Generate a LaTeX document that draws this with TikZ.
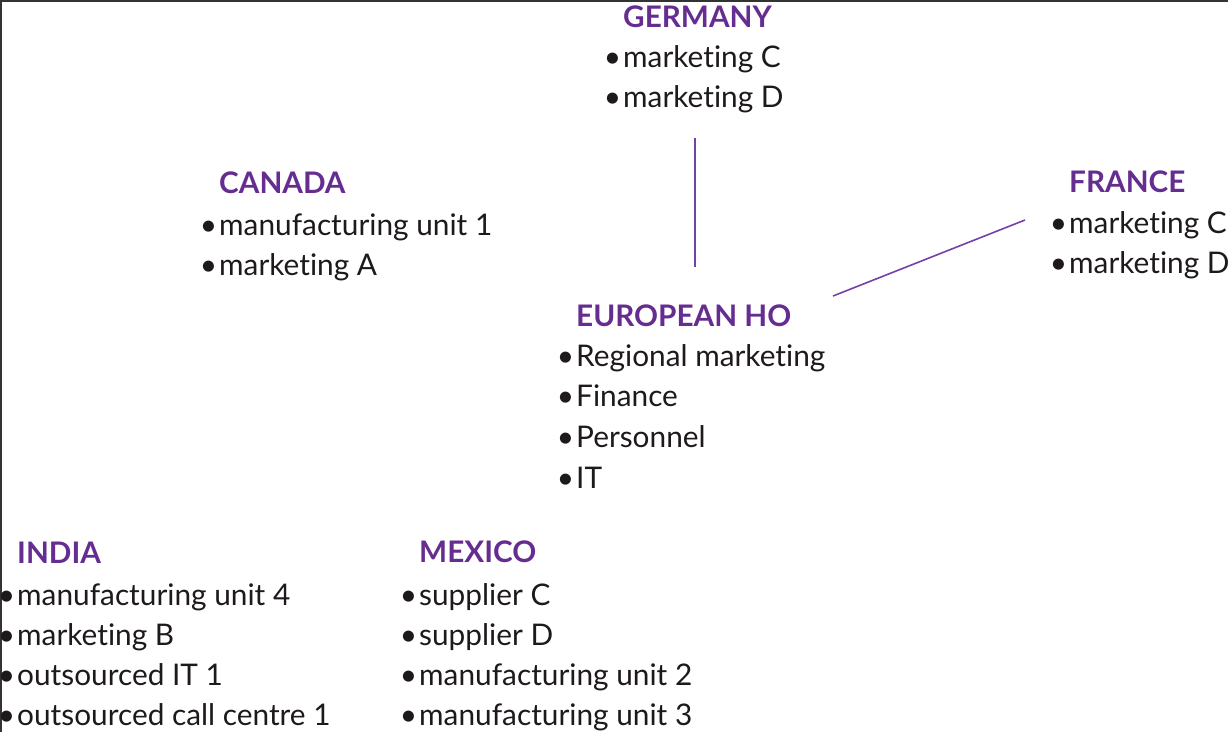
\documentclass[tikz,border=0pt]{standalone}
\usepackage{fontspec}
\setmainfont{Lato}[Ligatures=NoCommon]
\definecolor{hdpurple}{HTML}{662D91}
\definecolor{linepurple}{HTML}{7341A8}
\definecolor{txtdark}{HTML}{1E1A1B}
\definecolor{frame}{HTML}{333333}
\tikzset{
  heading/.style={anchor=base west, inner sep=0pt, text=hdpurple, font=\fontsize{29.7}{34}\selectfont\bfseries},
  item/.style={anchor=base west, inner sep=0pt, text=txtdark, font=\fontsize{29.8}{34}\selectfont},
  link/.style={draw=linepurple, line width=1.6pt},
}
\newcommand{\bul}{\makebox[0pt][r]{\textbullet\hspace{2pt}}}
\begin{document}
\begin{tikzpicture}[x=1pt,y=-1pt]
\useasboundingbox (0,0) rectangle (1228,732);
\clip (0,0) rectangle (1228,732);
\draw[frame, line width=4pt] (0,732) -- (0,0) -- (1228,0);
% GERMANY
\node[heading] (germany) at (623,27) {GERMANY};
\node[item] (germany-1) at (623,67) {\bul marketing C};
\node[item] (germany-2) at (623,107) {\bul marketing D};
% CANADA
\node[heading] (canada) at (219,193) {CANADA};
\node[item] (canada-1) at (219,235) {\bul manufacturing unit 1};
\node[item] (canada-2) at (219,275) {\bul marketing A};
% FRANCE
\node[heading] (france) at (1069,192) {FRANCE};
\node[item] (france-1) at (1069,233) {\bul marketing C};
\node[item] (france-2) at (1069,273) {\bul marketing D};
% EUROPEAN HO
\node[heading] (ho) at (576,326) {EUROPEAN HO};
\node[item] (ho-1) at (576,366) {\bul Regional marketing};
\node[item] (ho-2) at (576,406) {\bul Finance};
\node[item] (ho-3) at (576,447) {\bul Personnel};
\node[item] (ho-4) at (576,488) {\bul IT};
% INDIA
\node[heading] (india) at (17,563) {INDIA};
\node[item] (india-1) at (17,605) {\bul manufacturing unit 4};
\node[item] (india-2) at (17,645) {\bul marketing B};
\node[item] (india-3) at (17,685) {\bul outsourced IT 1};
\node[item] (india-4) at (17,725) {\bul outsourced call centre 1};
% MEXICO
\node[heading] (mexico) at (419,562) {MEXICO};
\node[item] (mexico-1) at (419,605) {\bul supplier C};
\node[item] (mexico-2) at (419,645) {\bul supplier D};
\node[item] (mexico-3) at (419,685) {\bul manufacturing unit 2};
\node[item] (mexico-4) at (419,725) {\bul manufacturing unit 3};
% connectors
\coordinate (g-top) at (695,138);
\coordinate (ho-top) at (695,267);
\coordinate (f-end) at (1025,220);
\coordinate (ho-right) at (833,296);
\draw[link] (g-top) -- (ho-top);
\draw[link] (f-end) -- (ho-right);
\end{tikzpicture}
\end{document}
